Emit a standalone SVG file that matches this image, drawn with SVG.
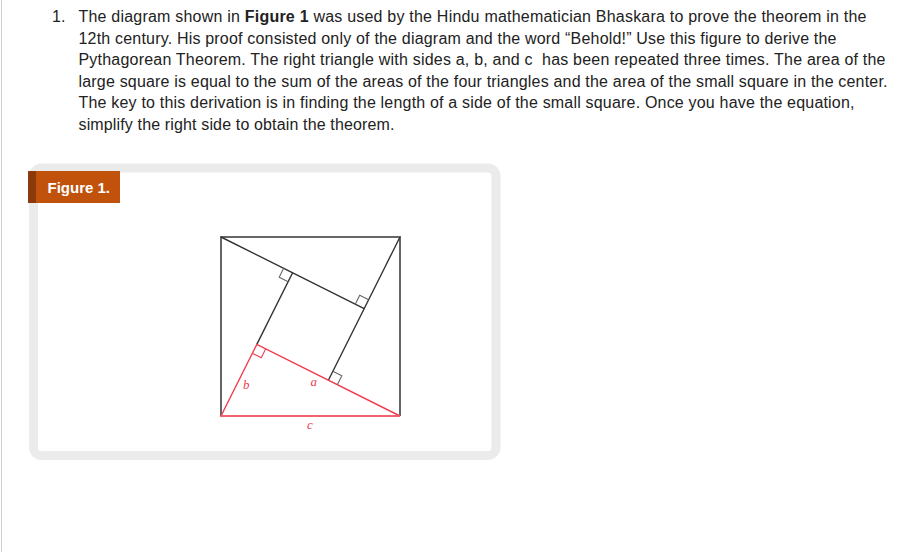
<svg xmlns="http://www.w3.org/2000/svg" width="916" height="552" viewBox="0 0 916 552">
<style>
.t{font-family:"Liberation Sans",Arial,sans-serif;font-size:16px;fill:#222}
.blk{stroke:#333;stroke-width:1.4;fill:none}
.red{stroke:#ee3e4e;stroke-width:1.4;fill:none}
.box{stroke:#666;stroke-width:1.1;fill:none}
.rbox{stroke:#ee3e4e;stroke-width:1.1;fill:none}
.lbl{font-family:"Liberation Serif","Times New Roman",serif;font-style:italic;font-size:13px;fill:#ee3e4e}
</style>
<rect width="916" height="552" fill="#fff"/>
<line x1="1.5" y1="0" x2="1.5" y2="552" stroke="#d0d0d0" stroke-width="1"/>
<g id="question">
<text class="t" x="52" y="22">1.</text>
<text class="t" x="78.5" y="22" textLength="788" lengthAdjust="spacing">The diagram shown in <tspan font-weight="bold">Figure 1</tspan> was used by the Hindu mathematician Bhaskara to prove the theorem in the</text>
<text class="t" x="78.5" y="43.5" textLength="758" lengthAdjust="spacing">12th century. His proof consisted only of the diagram and the word “Behold!” Use this figure to derive the</text>
<text class="t" x="78.5" y="65" textLength="807" lengthAdjust="spacing">Pythagorean Theorem. The right triangle with sides a, b, and c&#160; has been repeated three times. The area of the</text>
<text class="t" x="78.5" y="86.5" textLength="809" lengthAdjust="spacing">large square is equal to the sum of the areas of the four triangles and the area of the small square in the center.</text>
<text class="t" x="78.5" y="108" textLength="776" lengthAdjust="spacing">The key to this derivation is in finding the length of a side of the small square. Once you have the equation,</text>
<text class="t" x="78.5" y="129.5" textLength="316" lengthAdjust="spacing">simplify the right side to obtain the theorem.</text>
</g>
<g id="figure-frame">
<rect x="33.5" y="168" width="462.5" height="287.5" rx="8" fill="#fff" stroke="#ebebeb" stroke-width="9"/>
<rect x="28" y="171" width="92" height="32" fill="#c0520c"/>
<rect x="28" y="171" width="8" height="32" fill="#8b3a0b"/>
<text x="47.5" y="192.5" font-family="'Liberation Sans',Arial,sans-serif" font-size="15px" font-weight="bold" fill="#fff">Figure 1.</text>
</g>
<g id="big-square">
<path d="M221 416 V237 H400 V416" fill="none" stroke="#666" stroke-width="2"/>
</g>
<g id="connectors">
<line class="blk" x1="221" y1="237" x2="364.2" y2="308.6"/>
<line class="blk" x1="400" y1="237" x2="328.4" y2="380.2"/>
<line class="blk" x1="256.8" y1="344.4" x2="292.6" y2="272.8"/>
</g>
<g id="red-triangle">
<polygon class="red" points="221,416 256.8,344.4 400,416"/>
<line x1="221" y1="416" x2="400" y2="416" stroke="#f0606c" stroke-width="1.6"/>
</g>
<g id="right-angles">
<path class="box" d="M283.66 268.33 L279.19 277.27 L288.13 281.74"/>
<path class="box" d="M355.26 304.13 L359.73 295.19 L368.67 299.66"/>
<path class="box" d="M332.87 371.26 L341.81 375.73 L337.34 384.67"/>
<path class="rbox" d="M252.33 353.34 L261.27 357.81 L265.74 348.87"/>
</g>
<g id="labels">
<text class="lbl" x="243" y="389">b</text>
<text class="lbl" x="310.5" y="386">a</text>
<text class="lbl" x="307" y="429">c</text>
</g>
</svg>
